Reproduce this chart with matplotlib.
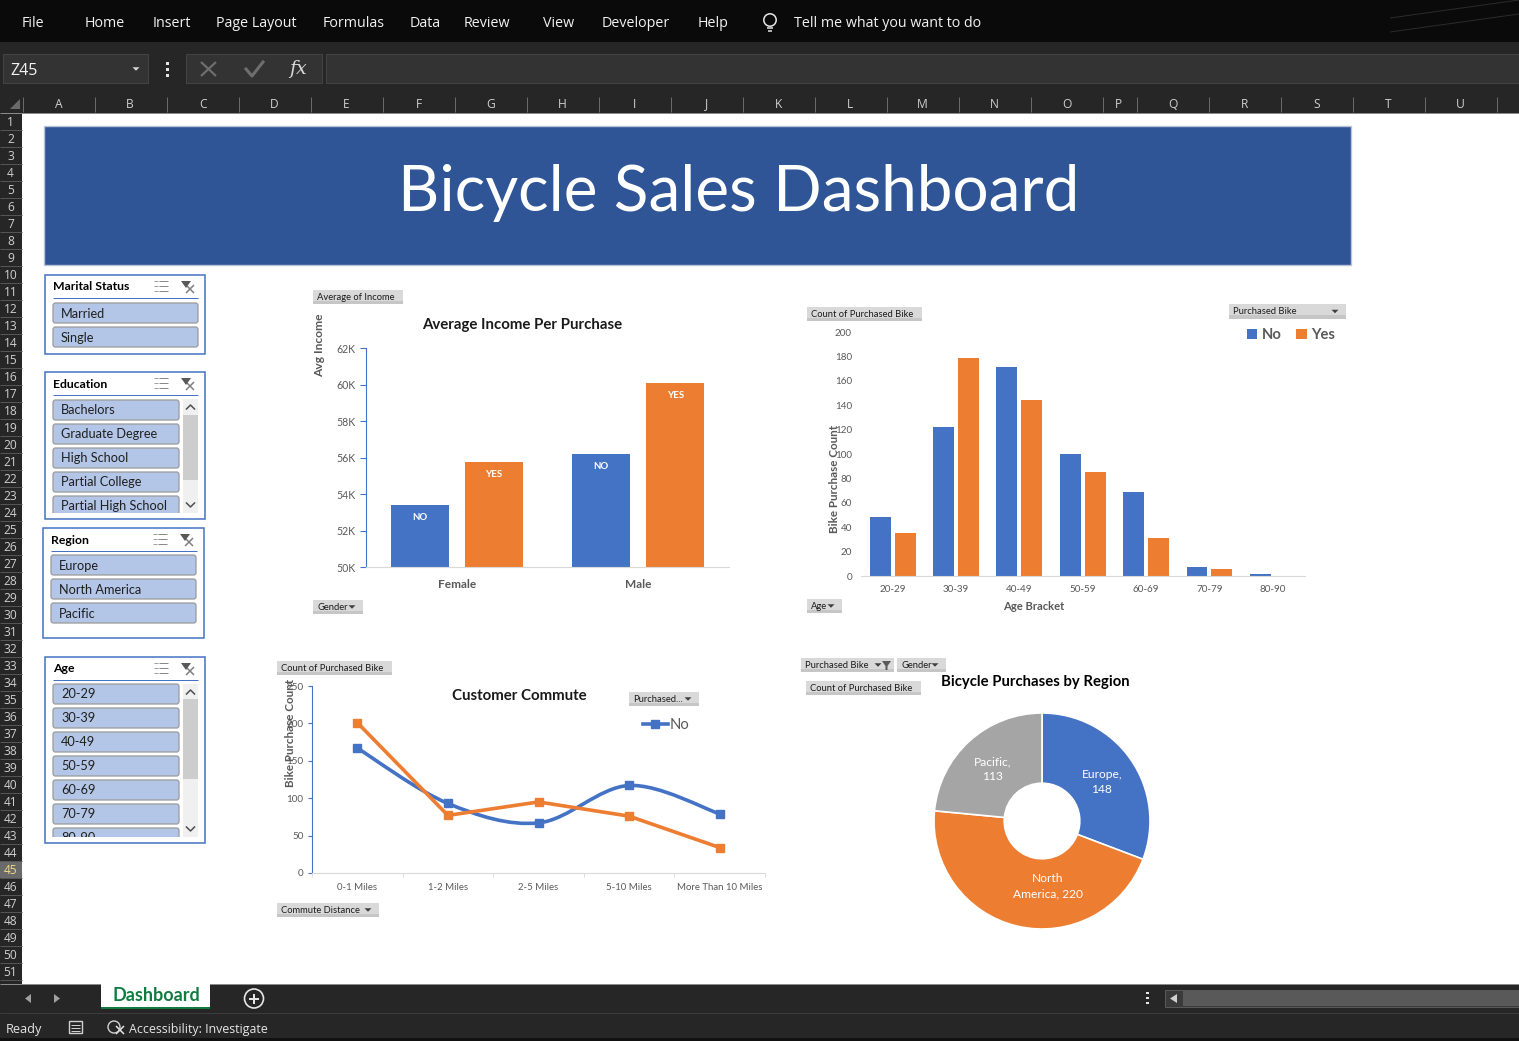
"""Bicycle sales dashboard: Excel window with slicers and four pivot charts."""

import matplotlib
matplotlib.use("Agg")
import matplotlib.pyplot as plt
from matplotlib.lines import Line2D
from matplotlib.patches import Circle, FancyBboxPatch, PathPatch, Polygon, Rectangle
from matplotlib.path import Path

W, H = 1519, 1041
BLUE = "#4472C4"
ORANGE = "#ED7D31"
GREY = "#A5A5A5"
TICK = "#595959"

# income chart
genders = ["Female", "Male"]
income_no = [53400, 56200]
income_yes = [55750, 60100]
income_ticks = [50000, 52000, 54000, 56000, 58000, 60000, 62000]

# age chart
age_brackets = ["20-29", "30-39", "40-49", "50-59", "60-69", "70-79", "80-90"]
age_no = [48, 122, 171, 100, 69, 7, 2]
age_yes = [35, 179, 144, 85, 31, 6, 0]

# commute chart
commutes = ["0-1 Miles", "1-2 Miles", "2-5 Miles", "5-10 Miles", "More Than 10 Miles"]
commute_no = [167, 93, 67, 117, 79]
commute_yes = [201, 77, 95, 76, 34]

# region chart
regions = ["Europe", "North\nAmerica", "Pacific"]
region_counts = [148, 220, 113]

# window text
menu_items = ["File", "Home", "Insert", "Page Layout", "Formulas", "Data", "Review",
              "View", "Developer", "Help", "Tell me what you want to do"]
columns = list("ABCDEFGHIJKLMNOPQRSTU")
marital_items = ["Married", "Single"]
education_items = ["Bachelors", "Graduate Degree", "High School", "Partial College",
                   "Partial High School"]
region_items = ["Europe", "North America", "Pacific"]
age_items = ["20-29", "30-39", "40-49", "50-59", "60-69", "70-79", "80-90"]

plt.rcParams["font.family"] = ["Lato", "DejaVu Sans"]

fig = plt.figure(figsize=(W / 100, H / 100), dpi=100, facecolor="white")


def px_axes(x0, y0, x1, y1, zorder=1):
    ax = fig.add_axes([x0 / W, 1 - y1 / H, (x1 - x0) / W, (y1 - y0) / H], zorder=zorder)
    ax.patch.set_alpha(0)
    return ax


def canvas(zorder):
    ax = px_axes(0, 0, W, H, zorder)
    ax.set_xlim(0, W)
    ax.set_ylim(H, 0)
    ax.axis("off")
    return ax


bg = canvas(0)
ov = canvas(3)


def rect(ax, x0, y0, x1, y1, color, edge="none", lw=0.0, z=1):
    ax.add_patch(Rectangle((x0, y0), x1 - x0, y1 - y0, facecolor=color, edgecolor=edge,
                           linewidth=lw, zorder=z))


def label(ax, x, y, s, px, color="black", weight="normal", ha="center", va="center",
          family=None, rotation=0, z=5, **kw):
    return ax.text(x, y, s, fontsize=px * 0.72, color=color, fontweight=weight, ha=ha, va=va,
                   family=family or ["Lato", "DejaVu Sans"], rotation=rotation, zorder=z, **kw)


def seg(ax, x0, y0, x1, y1, color, lw=1.0, z=4):
    ax.plot([x0, x1], [y0, y1], color=color, lw=lw * 0.72, zorder=z, solid_capstyle="butt")


def tri(ax, x, y, size=4.5, color="#404040", up=False):
    s = -1 if up else 1
    ax.add_patch(Polygon([(x - size, y - s * size / 2), (x + size, y - s * size / 2),
                          (x, y + s * size / 2)], color=color, zorder=6, lw=0))


# ---- excel chrome ----
UI = "Open Sans"
rect(bg, 0, 0, W, 42, "#0A0A0A")
rect(bg, 0, 42, W, 113, "#262626")
menu_x = [22, 85, 153, 216, 323, 410, 464, 543, 602, 698, 794]
for x, s in zip(menu_x, menu_items):
    label(bg, x, 23.5, s, 14.3, "#F2F2F2", ha="left", family=UI)
# lightbulb
bg.add_patch(Circle((770, 20), 6.2, facecolor="none", edgecolor="#E6E6E6", lw=1.1, zorder=5))
seg(bg, 767, 28, 773, 28, "#E6E6E6", 1.5)
seg(bg, 768, 31, 772, 31, "#E6E6E6", 1.5)
for dy in (0, 14):
    seg(bg, 1390, 18 + dy, 1519, 0 + dy, "#2B2B2B", 1)

rect(bg, 3, 54, 148, 83, "#333333", "#444444", 0.7)
label(bg, 10, 71, "Z45", 16, "#F2F2F2", ha="left", family=UI)
tri(bg, 136, 69, 3.5, "#D9D9D9")
for y in (63, 69, 75):
    rect(bg, 166, y - 1.5, 169, y + 1.5, "#E6E6E6")
rect(bg, 186, 54, 322, 83, "#333333", "#444444", 0.7)
rect(bg, 326, 54, W, 83, "#333333", "#444444", 0.7)
seg(bg, 201, 62, 216, 76, "#6E6E6E", 2.2)
seg(bg, 216, 62, 201, 76, "#6E6E6E", 2.2)
bg.plot([246, 252, 263], [69, 76, 62], color="#6E6E6E", lw=2.2, zorder=4)
label(bg, 298, 69, "fx", 19, "#D9D9D9", family="DejaVu Serif", style="italic")

# column headers
col_x = [59, 130, 203, 275, 347, 419, 491, 563, 635, 707, 779, 851, 923, 995, 1067, 1119,
         1173, 1245, 1317, 1389, 1461]
col_sep = [23, 95, 167, 239, 311, 383, 455, 527, 599, 671, 743, 815, 887, 959, 1031, 1103,
           1137, 1209, 1281, 1353, 1425, 1497]
for x, s in zip(col_x, columns):
    label(bg, x - 0.5, 104, s, 12, "#D0D0D0", family=UI)
for x in col_sep:
    seg(bg, x - 0.5, 97, x - 0.5, 112, "#6A6A6A", 1)
bg.add_patch(Polygon([(10, 109), (20, 109), (20, 99)], color="#6A6A6A", zorder=5, lw=0))

# row headers
rect(bg, 0, 113, 22, 984, "#262626")
for row in range(1, 52):
    y = 113 + (row - 1) * 17
    if row == 45:
        rect(bg, 0, y, 22, y + 17, "#6A6A6A", z=2)
    seg(bg, 0, y + 17, 22, y + 17, "#555555", 1)
    color = "#F2D98A" if row == 45 else "#D0D0D0"
    label(bg, 10.5, y + 9.5, str(row), 12, color, family=UI)
seg(bg, 0, 112.5, W, 112.5, "#8A8A8A", 1)

# tab and status bars
rect(bg, 0, 984, W, 1014, "#262626")
rect(bg, 0, 1014, W, 1041, "#262626")
seg(bg, 0, 984, W, 984, "#8A8A8A", 1)
seg(bg, 0, 1013, W, 1013, "#3C3C3C", 1)
rect(bg, 0, 1038, W, 1041, "#111111")
rect(bg, 101, 984, 210, 1008, "white", z=5)
rect(bg, 101, 1007, 210, 1009, "#107C41", z=6)
label(bg, 156, 995.5, "Dashboard", 18, "#107C41", "bold", z=7)
bg.add_patch(Polygon([(31, 994), (31, 1003), (25, 998.5)], color="#A0A0A0", zorder=5, lw=0))
bg.add_patch(Polygon([(54, 994), (54, 1003), (60, 998.5)], color="#A0A0A0", zorder=5, lw=0))
bg.add_patch(Circle((254, 998.5), 9.5, facecolor="none", edgecolor="#E6E6E6", lw=1.2, zorder=5))
seg(bg, 249, 998.5, 259, 998.5, "#E6E6E6", 2)
seg(bg, 254, 993.5, 254, 1003.5, "#E6E6E6", 2)
for y in (993, 998, 1003):
    rect(bg, 1146, y - 1.2, 1149, y + 1.2, "#E6E6E6", z=5)
rect(bg, 1165, 990, W, 1007, "#3A3A3A", "#5A5A5A", 0.7)
rect(bg, 1183, 991, W, 1006, "#595959", z=2)
bg.add_patch(Polygon([(1177, 994), (1177, 1003), (1170, 998.5)], color="#D0D0D0", zorder=5, lw=0))
label(bg, 6, 1029, "Ready", 12.8, "#E6E6E6", ha="left", family=UI)
rect(bg, 69, 1021, 82, 1033, "none", "#D0D0D0", 1, z=5)
for y in (1025, 1028, 1031):
    seg(bg, 71, y, 80, y, "#D0D0D0", 1)
bg.add_patch(Circle((114, 1027), 6, facecolor="none", edgecolor="#D0D0D0", lw=1, zorder=5))
seg(bg, 116, 1026, 124, 1034, "#E6E6E6", 1.5)
seg(bg, 124, 1026, 116, 1034, "#E6E6E6", 1.5)
label(bg, 129, 1029, "Accessibility: Investigate", 12.4, "#E6E6E6", ha="left", family=UI)

# ---- banner ----
rect(bg, 43.5, 126, 1351, 265, "#2F5597", "#B8C4D8", 1)
label(bg, 739, 193, "Bicycle Sales Dashboard", 63.9, "white", family="Lato")


# ---- slicers ----
def slicer(x0, y0, x1, y1, title, items, first_y, item_right, thumb=None):
    rect(bg, x0, y0, x1, y1, "white", BLUE, 1.1, z=2)
    pad = x0 + 8
    label(bg, pad, y0 + 12, title, 12.2, "black", "bold", ha="left")
    seg(bg, pad, y0 + 22.5, x1 - 7, y0 + 22.5, BLUE, 1)
    # multi-select and clear-filter icons
    ix = x1 - 51
    for dy in (-5, 0, 5):
        seg(bg, ix, y0 + 11 + dy, ix + 4, y0 + 11 + dy, "#A0A0A0", 1)
        seg(bg, ix + 5, y0 + 11 + dy, ix + 14, y0 + 11 + dy, "#8A8A8A", 1)
    fx = x1 - 24
    bg.add_patch(Polygon([(fx, y0 + 6), (fx + 10, y0 + 6), (fx + 5, y0 + 13)],
                         color="#595959", zorder=5, lw=0))
    seg(bg, fx + 5, y0 + 10, fx + 13, y0 + 18, "#7F7F7F", 1.5)
    seg(bg, fx + 13, y0 + 10, fx + 5, y0 + 18, "#7F7F7F", 1.5)
    bottom = y1 - 6
    clip = Rectangle((x0, y0), x1 - x0, bottom - y0, transform=bg.transData)
    for i, s in enumerate(items):
        cy = first_y + i * 24
        box = FancyBboxPatch((pad, cy - 10), item_right - pad, 20,
                             boxstyle="round,pad=0,rounding_size=2.5", facecolor="#B4C6E7",
                             edgecolor="#9A9A9A", linewidth=0.9, zorder=3)
        bg.add_patch(box)
        box.set_clip_path(clip)
        txt = label(bg, pad + 8, cy + 0.5, s, 12.8, "#1F1F1F", ha="left")
        txt.set_clip_path(clip)
        txt.set_clip_on(True)
    if thumb:
        rect(bg, item_right + 4, y0 + 27, x1 - 7, bottom, "#F0F0F0", z=3)
        rect(bg, item_right + 4, thumb[0], x1 - 7, thumb[1], "#CDCDCD", z=4)
        ax_c = (item_right + 4 + x1 - 7) / 2
        bg.plot([ax_c - 4, ax_c, ax_c + 4], [y0 + 37, y0 + 33, y0 + 37], color="#505050",
                lw=1.1, zorder=5)
        bg.plot([ax_c - 4, ax_c, ax_c + 4], [bottom - 10, bottom - 6, bottom - 10],
                color="#505050", lw=1.1, zorder=5)


slicer(45, 275, 205, 354, "Marital Status", marital_items, 313, 198)
slicer(45, 372, 205, 519, "Education", education_items, 410, 179, (415, 480))
slicer(43, 528, 204, 638, "Region", region_items, 565, 196)
slicer(45, 657, 205, 843, "Age", age_items, 694, 179, (699, 779))


# ---- pivot field buttons ----
def field(x0, y0, x1, y1, s, arrow=False, funnel=False):
    rect(ov, x0, y0, x1, y1, "#D9D9D9")
    rect(ov, x0, y0 + (y1 - y0) * 0.75, x1, y1, "#C6C6C6")
    label(ov, x0 + 4, (y0 + y1) / 2 + 0.5, s, 9.4, "#1A1A1A", ha="left")
    if arrow:
        tri(ov, x1 - 11 if not funnel else x1 - 16, (y0 + y1) / 2, 3.5, "#404040")
    if funnel:
        ov.add_patch(Polygon([(x1 - 12, y0 + 3), (x1 - 3, y0 + 3), (x1 - 6.5, y0 + 8),
                              (x1 - 6.5, y1 - 2), (x1 - 8.5, y1 - 2), (x1 - 8.5, y0 + 8)],
                             color="#595959", zorder=6, lw=0))


field(313, 290, 403, 304, "Average of Income")
field(313, 600, 363, 614, "Gender", arrow=True)
field(807, 307, 922, 321, "Count of Purchased Bike")
field(1229, 304, 1346, 319, "Purchased Bike", arrow=True)
field(807, 599, 842, 613, "Age", arrow=True)
field(277, 661, 392, 675, "Count of Purchased Bike")
field(629, 692, 699, 706, "Purchased...", arrow=True)
field(277, 903, 379, 917, "Commute Distance", arrow=True)
field(801, 658, 894, 672, "Purchased Bike", arrow=True, funnel=True)
field(897, 658, 946, 672, "Gender", arrow=True)
field(806, 681, 921, 695, "Count of Purchased Bike")


def style_axes(ax, left_spine=True):
    for side in ("top", "right"):
        ax.spines[side].set_visible(False)
    ax.spines["bottom"].set_color("#D9D9D9")
    ax.spines["left"].set_visible(left_spine)
    ax.spines["left"].set_color(BLUE)
    ax.tick_params(axis="both", colors=TICK, labelsize=7.1, length=0)


# ---- average income ----
ax = px_axes(366, 348, 729, 567)
x_pos = range(len(genders))
no_bars = ax.bar([x - 0.204 for x in x_pos], income_no, 0.32, color=BLUE)
yes_bars = ax.bar([x + 0.204 for x in x_pos], income_yes, 0.32, color=ORANGE)
ax.set_xlim(-0.5, 1.5)
ax.set_ylim(50000, 62000)
ax.set_yticks(income_ticks, [f"{v // 1000}K" for v in income_ticks])
ax.set_xticks(list(x_pos), genders)
style_axes(ax)
ax.tick_params(axis="y", length=4, color=BLUE, pad=3.5, labelsize=7.6)
ax.tick_params(axis="x", labelsize=8.6, pad=9)
for t in ax.get_xticklabels():
    t.set_fontweight("bold")
for bars, s in ((no_bars, "NO"), (yes_bars, "YES")):
    for b in bars:
        ax.annotate(s, (b.get_x() + b.get_width() / 2, b.get_height()), xytext=(0, -9),
                    textcoords="offset points", ha="center", va="center", color="white",
                    fontsize=7, fontweight="bold")
label(ov, 522, 325, "Average Income Per Purchase", 15, "#1A1A1A", "bold")
label(ov, 320, 345, "Avg Income", 12, TICK, "bold", rotation=90)

# ---- age bracket ----
ax = px_axes(861, 332, 1304.5, 576)
x_pos = range(len(age_brackets))
bar_no = ax.bar([x - 0.197 for x in x_pos], age_no, 0.33, color=BLUE, label="No")
bar_yes = ax.bar([x + 0.197 for x in x_pos], age_yes, 0.33, color=ORANGE, label="Yes")
ax.set_xlim(-0.5, 6.5)
ax.set_ylim(0, 200)
ax.set_yticks(range(0, 201, 20))
ax.set_xticks(list(x_pos), age_brackets)
style_axes(ax, left_spine=False)
ax.tick_params(axis="y", pad=6.5)
ax.tick_params(axis="x", pad=6.5)
ax.legend(handles=[bar_no, bar_yes], ncol=2, frameon=False, loc="center",
          bbox_to_anchor=(1291, 335), bbox_transform=ov.transData,
          labelcolor=TICK, prop={"family": "Lato", "weight": "bold", "size": 10.6},
          handlelength=0.7, handleheight=0.7, handletextpad=0.3, columnspacing=1.0,
          borderpad=0)
label(ov, 834, 479, "Bike Purchase Count", 11.6, TICK, "bold", rotation=90)
label(ov, 1034, 607, "Age Bracket", 11.3, TICK, "bold")


# ---- customer commute ----
def smooth_path(ys):
    # bezier segments through the values, as Excel's smoothed line does
    pts = list(enumerate(ys))
    verts, codes = [pts[0]], [Path.MOVETO]
    for i in range(len(pts) - 1):
        p0 = pts[max(i - 1, 0)]
        p1 = pts[i]
        p2 = pts[i + 1]
        p3 = pts[min(i + 2, len(pts) - 1)]
        verts += [(p1[0] + (p2[0] - p0[0]) / 6, p1[1] + (p2[1] - p0[1]) / 6),
                  (p2[0] - (p3[0] - p1[0]) / 6, p2[1] - (p3[1] - p1[1]) / 6), p2]
        codes += [Path.CURVE4] * 3
    return Path(verts, codes)


ax = px_axes(312, 686, 765, 873)
x_pos = list(range(len(commutes)))
ax.add_patch(PathPatch(smooth_path(commute_no), facecolor="none", edgecolor=BLUE, lw=2.6,
                       zorder=2))
ax.plot(x_pos, commute_no, ls="none", marker="s", ms=5.8, color=BLUE, zorder=3)
ax.plot(x_pos, commute_yes, color=ORANGE, lw=2.6, marker="s", ms=5.8, zorder=4)
ax.set_xlim(-0.5, 4.5)
ax.set_ylim(0, 250)
ax.set_yticks(range(0, 251, 50))
ax.set_xticks(x_pos, commutes)
ax.set_xticks([x - 0.5 for x in range(len(commutes) + 1)], minor=True)
style_axes(ax)
ax.tick_params(axis="y", length=3, color=BLUE, pad=3)
ax.tick_params(axis="x", pad=7.5, labelsize=6.9)
ax.tick_params(axis="x", which="minor", length=3, color="#D9D9D9")
legend_line = Line2D([], [], color=BLUE, lw=2.6, marker="s", ms=5.8, label="No")
ax.legend(handles=[legend_line], frameon=False, loc="center", bbox_to_anchor=(666, 725),
          bbox_transform=ov.transData, prop={"family": "Lato", "size": 10.6}, labelcolor=TICK,
          handlelength=1.75, handletextpad=0.1, borderpad=0)
label(ov, 519, 696, "Customer Commute", 15, "#1A1A1A", "bold")
label(ov, 290, 733, "Bike Purchase Count", 11.6, TICK, "bold", rotation=90)

# ---- region donut ----
ax = px_axes(1042 - 108, 821 - 108, 1042 + 108, 821 + 108)
ax.pie(region_counts, colors=[BLUE, ORANGE, GREY], startangle=90, counterclock=False,
       radius=1.0, wedgeprops={"width": 0.65, "edgecolor": "white", "linewidth": 1.2})
ax.set_xlim(-1, 1)
ax.set_ylim(-1, 1)
label(ov, 941, 682, "Bicycle Purchases by Region", 14.9, "black", "bold", ha="left")
region_label_xy = [(1102, 782), (1048, 886), (993, 769)]
for (x, y), name, n in zip(region_label_xy, regions, region_counts):
    label(ov, x, y, f"{name},\n{n}" if "\n" not in name else f"{name}, {n}", 12, "white",
          linespacing=1.45)

fig.savefig("out.png", dpi=100, facecolor="white")
